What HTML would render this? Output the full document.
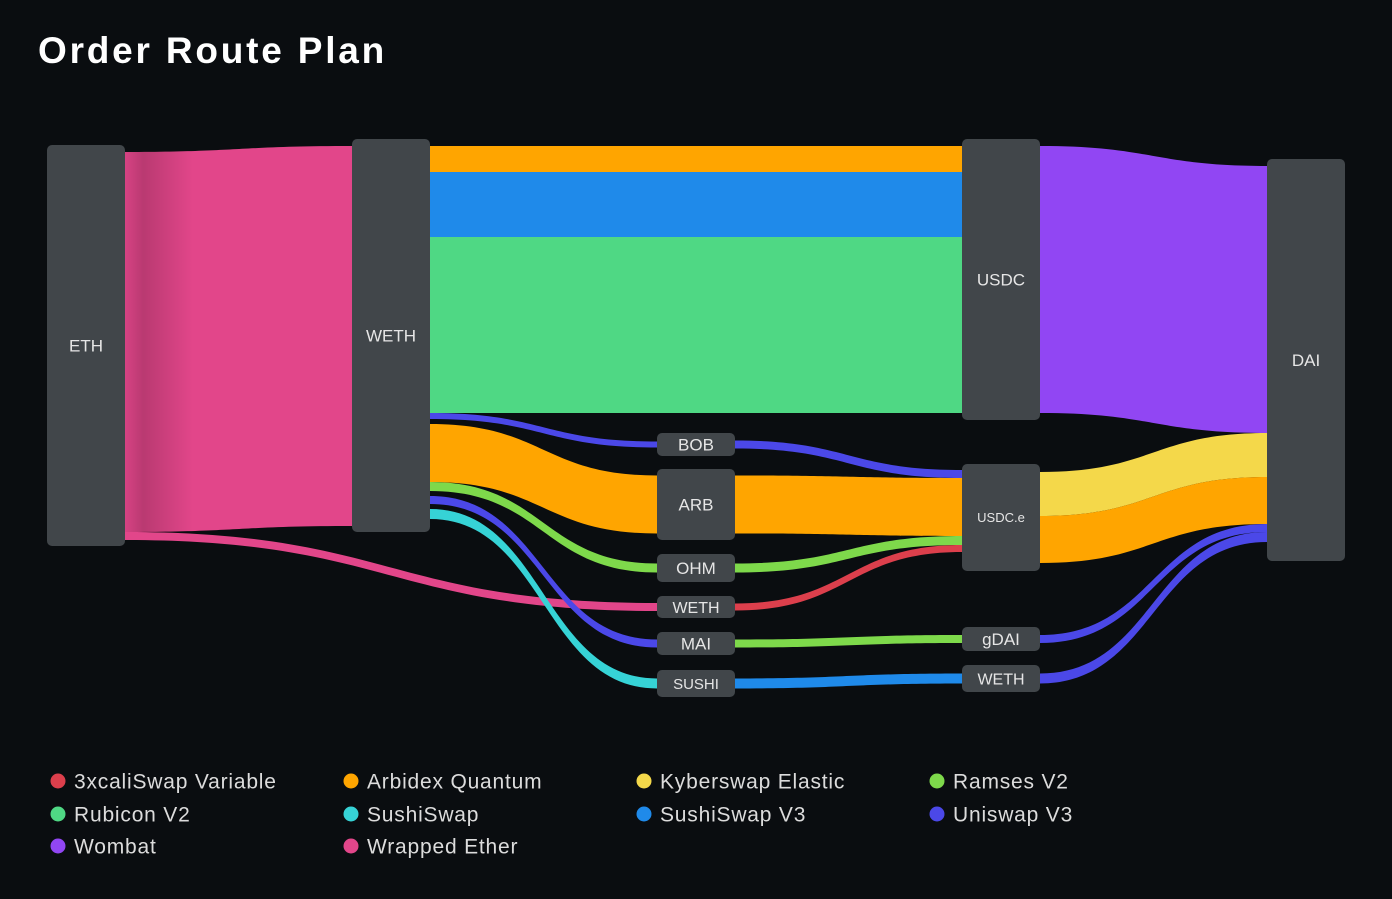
<!DOCTYPE html>
<html><head><meta charset="utf-8">
<style>
html,body{margin:0;padding:0;background:#0a0d10;}
body{width:1392px;height:894px;overflow:hidden;font-family:"Liberation Sans",sans-serif;}
svg text{font-family:"Liberation Sans",sans-serif;}
</style></head>
<body>
<svg id="chart" width="1392" height="894" viewBox="0 0 1392 894" xmlns="http://www.w3.org/2000/svg">
<defs>
<linearGradient id="shade" x1="0" x2="1" y1="0" y2="0">
<stop offset="0" stop-color="#000" stop-opacity="0.05"/>
<stop offset="0.08" stop-color="#000" stop-opacity="0.18"/>
<stop offset="0.3" stop-color="#000" stop-opacity="0"/>
</linearGradient>
</defs>
<rect width="1392" height="894" fill="#0a0d10"/>
<text x="38" y="63" font-size="37" font-weight="bold" letter-spacing="2.8" fill="#ffffff">Order Route Plan</text>
<g id="links"></g>
<g id="nodes"></g>
<g id="legend"></g>
</svg>
<script>
// Nodes (names) and layout
const nodeNames = ["ETH","WETH","USDC","DAI","BOB","ARB","OHM","WETH","MAI","SUSHI","USDC.e","gDAI","WETH"];
const nodeBoxes = [
 [47,145,401],[352,139,393],[962,139,281],[1267,159,402],
 [657,433,23],[657,469,71],[657,554,28],[657,596,22],[657,632,23],[657,670,27],
 [962,464,107],[962,627,24],[962,665,27]];
const nodeFont = [17,17,17,17,17,17,17,16,17,15,13,17,16];
const nodeSrcPad = [7,7,7,0,null,null,null,null,null,null,null,null,null];
const nodeTgtPad = [0,7,7,7,null,null,null,null,null,null,6,null,null];
// Links
const linkSource = [0,0, 1,1,1, 1,1,1,1,1, 4,5,6,7, 8,9, 2, 10,10, 11,12];
const linkTarget = [1,7, 2,2,2, 4,5,6,8,9, 10,10,10,10, 11,12, 3, 3,3, 3,3];
const linkValues = [380,8, 26,65,176, 6,58,9,8,10, 8,58,9,7, 8,10, 267, 44,47, 8,10];
const linkProtocol = [7,7, 1,6,3, 5,1,4,5,2, 5,1,4,0, 4,6, 8, 9,1, 5,5];
const linkGaps = [0,0, 0,0,0, 0,5,0,5,5, 0,0,0,0, 0,0, 0, 0,0, 0,0];
// Protocols
const protocols = ["3xcaliSwap Variable","Arbidex Quantum","SushiSwap","Rubicon V2","Ramses V2","Uniswap V3","SushiSwap V3","Wrapped Ether","Wombat","Kyberswap Elastic"];
const protoColors = ["#dc3f4c","#ffa500","#36d3d6","#4fd884","#7ed94b","#4b48e8","#1f8aea","#e2468a","#9146f3","#f4d84a"];
const legendOrder = [0,1,9,4,3,2,6,5,8,7];
const legendNames = ["3xcaliSwap Variable","Arbidex Quantum","Kyberswap Elastic","Ramses V2","Rubicon V2","SushiSwap","SushiSwap V3","Uniswap V3","Wombat","Wrapped Ether"];

const NS="http://www.w3.org/2000/svg";
const W=78;
function sum(a){return a.reduce((s,v)=>s+v,0);}
const outTot=nodeNames.map((_,i)=>sum(linkValues.filter((v,k)=>linkSource[k]===i))+sum(linkGaps.filter((v,k)=>linkSource[k]===i)));
const inTot=nodeNames.map((_,i)=>sum(linkValues.filter((v,k)=>linkTarget[k]===i)));
const srcY=nodeBoxes.map((b,i)=>b[1]+(nodeSrcPad[i]!==null?nodeSrcPad[i]:(b[2]-outTot[i])/2));
const tgtY=nodeBoxes.map((b,i)=>b[1]+(nodeTgtPad[i]!==null?nodeTgtPad[i]:(b[2]-inTot[i])/2));
const lg=document.getElementById('links');
linkValues.forEach((v,k)=>{
  const s=linkSource[k],t=linkTarget[k];
  srcY[s]+=linkGaps[k];
  const y0=srcY[s], y1=tgtY[t];
  srcY[s]+=v; tgtY[t]+=v;
  const x0=nodeBoxes[s][0]+W, x1=nodeBoxes[t][0];
  const xm=(x0+x1)/2;
  const d=`M${x0},${y0} C${xm},${y0} ${xm},${y1} ${x1},${y1} L${x1},${y1+v} C${xm},${y1+v} ${xm},${y0+v} ${x0},${y0+v} Z`;
  const p=document.createElementNS(NS,'path');
  p.setAttribute('d',d);
  p.setAttribute('fill',protoColors[linkProtocol[k]]);
  
  
  lg.appendChild(p);
  if(k===0){
    const sh=document.createElementNS(NS,'path');
    sh.setAttribute('d',d);
    sh.setAttribute('fill','url(#shade)');
    
    
    lg.appendChild(sh);
  }
});
const ng=document.getElementById('nodes');
nodeBoxes.forEach((b,i)=>{
  const r=document.createElementNS(NS,'rect');
  r.setAttribute('x',b[0]);r.setAttribute('y',b[1]);r.setAttribute('width',W);r.setAttribute('height',b[2]);
  r.setAttribute('rx',5);r.setAttribute('fill','#41464a');
  
  
  ng.appendChild(r);
  const t=document.createElementNS(NS,'text');
  t.setAttribute('x',b[0]+W/2);t.setAttribute('y',b[1]+b[2]/2+nodeFont[i]*0.36);
  t.setAttribute('text-anchor','middle');t.setAttribute('font-size',nodeFont[i]);
  t.setAttribute('fill','#e6e6e6');
  
  
  t.textContent=nodeNames[i];
  ng.appendChild(t);
});
const leg=document.getElementById('legend');
const colX=[58,351,644,937], rowY=[781,814,846];
legendOrder.forEach((p,i)=>{
  const x=colX[i%4], y=rowY[Math.floor(i/4)];
  const c=document.createElementNS(NS,'circle');
  c.setAttribute('cx',x);c.setAttribute('cy',y);c.setAttribute('r',7.5);
  c.setAttribute('fill',protoColors[p]);
  
  
  leg.appendChild(c);
  const t=document.createElementNS(NS,'text');
  t.setAttribute('x',x+16);t.setAttribute('y',y+7.5);
  t.setAttribute('font-size',21);t.setAttribute('fill','#dcdcdc');
  t.setAttribute('letter-spacing','0.8');
  
  
  t.textContent=legendNames[i];
  leg.appendChild(t);
});
</script>
</body></html>
